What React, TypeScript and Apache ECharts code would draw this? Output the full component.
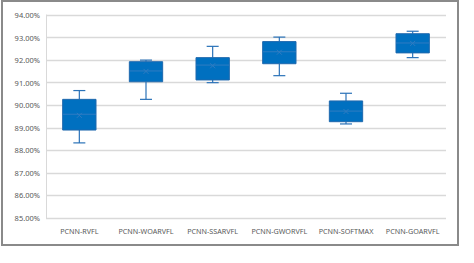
import React, { useEffect, useRef } from "react";
import * as echarts from "echarts";

const categories = ["PCNN-RVFL", "PCNN-WOARVFL", "PCNN-SSARVFL", "PCNN-GWORVFL", "PCNN-SOFTMAX", "PCNN-GOARVFL"];
const minVals = [88.33, 90.26, 91.0, 91.31, 89.17, 92.11];
const q1Vals = [88.9, 91.04, 91.12, 91.84, 89.27, 92.32];
const medianVals = [89.6, 91.52, 91.78, 92.37, 89.74, 92.76];
const q3Vals = [90.26, 91.93, 92.11, 92.82, 90.19, 93.17];
const maxVals = [90.65, 92.0, 92.61, 93.02, 90.53, 93.28];
const meanVals = [89.55, 91.5, 91.75, 92.35, 89.72, 92.74];
const yTicks = { min: 85, max: 94, interval: 1 };

export default function App() {
  const ref = useRef<HTMLDivElement>(null);
  useEffect(() => {
    if (!ref.current) return;
    const chart = echarts.init(ref.current, null, { renderer: "svg" });
    const data = categories.map((_, i) => [i, minVals[i], q1Vals[i], medianVals[i], q3Vals[i], maxVals[i], meanVals[i]]);
    const fill = "#0070c0";
    const stroke = "#2a72b8";
    chart.setOption({
      animation: false,
      backgroundColor: "#ffffff",
      graphic: [
        {
          type: "rect",
          shape: { x: 2, y: 1, width: 456, height: 244 },
          style: { fill: "none", stroke: "#8a8a8a", lineWidth: 2 },
          silent: true,
        },
      ],
      grid: { left: 46, right: 28, top: 15, bottom: 45 },
      xAxis: {
        type: "category",
        data: categories,
        axisLine: { show: false },
        axisTick: { show: false },
        axisLabel: {
          color: "#595959",
          fontSize: 7.2,
          fontFamily: "Noto Sans",
          margin: 9,
          interval: 0,
          hideOverlap: false,
        },
      },
      yAxis: {
        type: "value",
        min: yTicks.min,
        max: yTicks.max,
        interval: yTicks.interval,
        axisLine: { show: true, lineStyle: { color: "#d9d9d9", width: 1 } },
        axisTick: { show: false },
        splitLine: { lineStyle: { color: "#d9d9d9", width: 1.3 } },
        axisLabel: {
          color: "#595959",
          fontSize: 7.5,
          fontFamily: "Noto Sans",
          margin: 6,
          formatter: (v: number) => v.toFixed(2) + "%",
        },
      },
      series: [
        {
          type: "custom",
          data,
          encode: { x: 0, y: [1, 2, 3, 4, 5] },
          renderItem: (params: any, api: any) => {
            const i = api.value(0);
            const pMin = api.coord([i, api.value(1)]);
            const pQ1 = api.coord([i, api.value(2)]);
            const pMed = api.coord([i, api.value(3)]);
            const pQ3 = api.coord([i, api.value(4)]);
            const pMax = api.coord([i, api.value(5)]);
            const pMean = api.coord([i, api.value(6)]);
            const cw = api.size([1, 0])[0];
            const bw = cw * 0.5;
            const capW = 12;
            const x = pQ1[0];
            const lineStyle = { stroke, lineWidth: 1.2, fill: "none" };
            const m = 2.5;
            return {
              type: "group",
              children: [
                { type: "line", shape: { x1: x, y1: pMax[1], x2: x, y2: pQ3[1] }, style: lineStyle },
                { type: "line", shape: { x1: x, y1: pQ1[1], x2: x, y2: pMin[1] }, style: lineStyle },
                { type: "line", shape: { x1: x - capW / 2, y1: pMax[1], x2: x + capW / 2, y2: pMax[1] }, style: lineStyle },
                { type: "line", shape: { x1: x - capW / 2, y1: pMin[1], x2: x + capW / 2, y2: pMin[1] }, style: lineStyle },
                {
                  type: "rect",
                  shape: { x: x - bw / 2, y: pQ3[1], width: bw, height: pQ1[1] - pQ3[1] },
                  style: { fill, stroke: "#1f68ad", lineWidth: 1 },
                },
                { type: "line", shape: { x1: x - bw / 2, y1: pMed[1], x2: x + bw / 2, y2: pMed[1] }, style: { stroke: "#2f7cc2", lineWidth: 1 } },
                { type: "line", shape: { x1: x - m, y1: pMean[1] - m, x2: x + m, y2: pMean[1] + m }, style: { stroke: "#2f7cc2", lineWidth: 1 } },
                { type: "line", shape: { x1: x - m, y1: pMean[1] + m, x2: x + m, y2: pMean[1] - m }, style: { stroke: "#2f7cc2", lineWidth: 1 } },
              ],
            };
          },
        },
      ],
    });
    return () => chart.dispose();
  }, []);
  return <div ref={ref} style={{ position: "fixed", left: 0, top: 0, width: 474, height: 263 }} />;
}
